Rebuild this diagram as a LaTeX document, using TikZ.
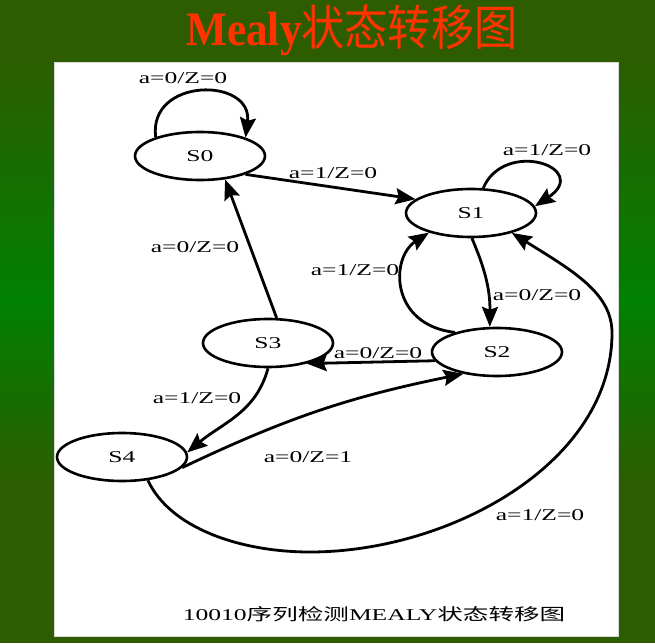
\documentclass[tikz,border=0pt]{standalone}
\usepackage{fontspec}
\setmainfont{Liberation Serif}
\newfontfamily\cjk{Noto Sans CJK SC}
\usetikzlibrary{arrows.meta,shapes.geometric}
\definecolor{olivebg}{RGB}{46,92,0}
\definecolor{brightbg}{RGB}{0,128,0}
\definecolor{titlered}{RGB}{255,51,0}
\newcommand{\wide}[1]{\scalebox{1.55}[1]{#1}}
\tikzset{
  state/.style={ellipse, draw, line width=2.6pt, minimum width=130pt, minimum height=48pt,
    inner sep=0pt, font=\fontsize{16.5}{18}\selectfont},
  lbl/.style={inner sep=1pt, font=\fontsize{16.5}{18}\selectfont},
  trans/.style={line width=2.8pt, -{Stealth[length=20pt,width=16pt,inset=3pt]}}
}
\begin{document}
\begin{tikzpicture}[x=1pt,y=1pt]
\useasboundingbox (0,0) rectangle (655,643);

% green backdrop and white sheet
\fill[olivebg] (0,0) rectangle (655,643);
\shade[top color=olivebg, bottom color=brightbg] (0,343) rectangle (655,593);
\shade[top color=brightbg, bottom color=olivebg] (0,153) rectangle (655,343);
\fill[white, draw=gray!30, line width=0.5pt] (54,7) rectangle (618,581);

\node[font=\fontsize{48}{52}\selectfont, text=titlered, inner sep=0pt] (title) at (352,613)
  {\scalebox{0.9}[1]{{\bfseries Mealy}{\cjk 状态转移图}}};

% states
\node[state] (S0) at (200,487) {\wide{S0}};
\node[state] (S1) at (471,430) {\wide{S1}};
\node[state] (S2) at (497,291) {\wide{S2}};
\node[state] (S3) at (268,300) {\wide{S3}};
\node[state] (S4) at (122,186) {\wide{S4}};

% transitions
\draw[trans] (S0.157) .. controls (148,566) and (253,566) .. (S0.22);
\draw[trans] (S0.-22) -- (S1.166);
\draw[trans] (S1.64) .. controls (505,505) and (592,475) .. (S1.6);
\draw[trans] (S1.-88) to[bend left=12] (S2.106);
\draw[trans] (S2.155) .. controls (390,318) and (390,385) .. (S1.-155);
\draw[trans] (S2.188) -- (S3.-28);
\draw[trans] (S3.71) -- (S0.-43);
\draw[trans] (S3.-90) to[out=-105,in=40] (S4.4);
\draw[trans] (S4.-10) to[bend left=7] (S2.-147);
\draw[trans] (S4.-42) .. controls (170,115) and (240,91) .. (310,91)
  .. controls (450,91) and (612,180) .. (612,310)
  .. controls (612,350) and (573,372) .. (S1.-26);

% labels
\node[lbl] (l1) at (183,565) {\wide{a=0/Z=0}};
\node[lbl] (l2) at (333,470) {\wide{a=1/Z=0}};
\node[lbl] (l3) at (547,493) {\wide{a=1/Z=0}};
\node[lbl] (l4) at (195,396) {\wide{a=0/Z=0}};
\node[lbl] (l5) at (355,373) {\wide{a=1/Z=0}};
\node[lbl] (l6) at (537,348) {\wide{a=0/Z=0}};
\node[lbl] (l7) at (378,290) {\wide{a=0/Z=0}};
\node[lbl] (l8) at (197,245) {\wide{a=1/Z=0}};
\node[lbl] (l9) at (308,186) {\wide{a=0/Z=1}};
\node[lbl] (l10) at (540,128) {\wide{a=1/Z=0}};

\node[lbl] (caption) at (374,29) {\wide{10010{\cjk 序列检测}MEALY{\cjk 状态转移图}}};
\end{tikzpicture}
\end{document}
